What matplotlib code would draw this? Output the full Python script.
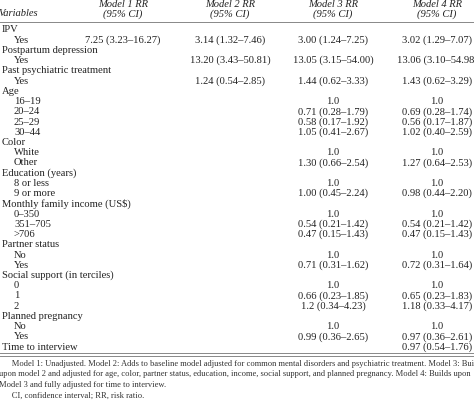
import matplotlib
matplotlib.use("Agg")
import matplotlib.pyplot as plt

headers = ["Model 1 RR\n(95% CI)", "Model 2 RR\n(95% CI)", "Model 3 RR\n(95% CI)", "Model 4 RR\n(95% CI)"]
rows = [
    ("IPV", 0, ["", "", "", ""]),
    ("Yes", 1, ["7.25 (3.23–16.27)", "3.14 (1.32–7.46)", "3.00 (1.24–7.25)", "3.02 (1.29–7.07)"]),
    ("Postpartum depression", 0, ["", "", "", ""]),
    ("Yes", 1, ["", "13.20 (3.43–50.81)", "13.05 (3.15–54.00)", "13.06 (3.10–54.98)"]),
    ("Past psychiatric treatment", 0, ["", "", "", ""]),
    ("Yes", 1, ["", "1.24 (0.54–2.85)", "1.44 (0.62–3.33)", "1.43 (0.62–3.29)"]),
    ("Age", 0, ["", "", "", ""]),
    ("16–19", 1, ["", "", "1.0", "1.0"]),
    ("20–24", 1, ["", "", "0.71 (0.28–1.79)", "0.69 (0.28–1.74)"]),
    ("25–29", 1, ["", "", "0.58 (0.17–1.92)", "0.56 (0.17–1.87)"]),
    ("30–44", 1, ["", "", "1.05 (0.41–2.67)", "1.02 (0.40–2.59)"]),
    ("Color", 0, ["", "", "", ""]),
    ("White", 1, ["", "", "1.0", "1.0"]),
    ("Other", 1, ["", "", "1.30 (0.66–2.54)", "1.27 (0.64–2.53)"]),
    ("Education (years)", 0, ["", "", "", ""]),
    ("8 or less", 1, ["", "", "1.0", "1.0"]),
    ("9 or more", 1, ["", "", "1.00 (0.45–2.24)", "0.98 (0.44–2.20)"]),
    ("Monthly family income (US$)", 0, ["", "", "", ""]),
    ("0–350", 1, ["", "", "1.0", "1.0"]),
    ("351–705", 1, ["", "", "0.54 (0.21–1.42)", "0.54 (0.21–1.42)"]),
    (">706", 1, ["", "", "0.47 (0.15–1.43)", "0.47 (0.15–1.43)"]),
    ("Partner status", 0, ["", "", "", ""]),
    ("No", 1, ["", "", "1.0", "1.0"]),
    ("Yes", 1, ["", "", "0.71 (0.31–1.62)", "0.72 (0.31–1.64)"]),
    ("Social support (in terciles)", 0, ["", "", "", ""]),
    ("0", 1, ["", "", "1.0", "1.0"]),
    ("1", 1, ["", "", "0.66 (0.23–1.85)", "0.65 (0.23–1.83)"]),
    ("2", 1, ["", "", "1.2 (0.34–4.23)", "1.18 (0.33–4.17)"]),
    ("Planned pregnancy", 0, ["", "", "", ""]),
    ("No", 1, ["", "", "1.0", "1.0"]),
    ("Yes", 1, ["", "", "0.99 (0.36–2.65)", "0.97 (0.36–2.61)"]),
    ("Time to interview", 0, ["", "", "", "0.97 (0.54–1.76)"]),
]
footnotes = [
    "      Model 1: Unadjusted. Model 2: Adds to baseline model adjusted for common mental disorders and psychiatric treatment. Model 3: Builds",
    "upon model 2 and adjusted for age, color, partner status, education, income, social support, and planned pregnancy. Model 4: Builds upon",
    "Model 3 and fully adjusted for time to interview.",
    "      CI, confidence interval; RR, risk ratio.",
]

W, H = 474, 404
fig = plt.figure(figsize=(W/100, H/100), dpi=100)
ax = fig.add_axes([0, 0, 1, 1])
ax.set_xlim(0, W); ax.set_ylim(H, 0); ax.axis("off")
font = dict(family="Liberation Serif", fontsize=7.6, color="#222222")
colx = [123, 230, 333, 437]

ax.text(-2, 14, "Variables", style="italic", va="center", ha="left", **font)
for x, h in zip(colx, headers):
    ax.text(x, 9.5, h, style="italic", va="center", ha="center", linespacing=1.05, **font)
ax.plot([0, W], [22, 22], color="#888888", lw=0.7)

y0, dy = 30, 10.23
for i, (label, ind, vals) in enumerate(rows):
    y = y0 + i*dy
    ax.text(2 + ind*12, y, label, va="center", ha="left", **font)
    for x, v in zip(colx, vals):
        if v:
            ax.text(x, y, v, va="center", ha="center", **font)

ax.plot([0, W], [353, 353], color="#888888", lw=0.7)
ax.plot([0, W], [355.5, 355.5], color="#888888", lw=0.7)
fn = dict(family="Liberation Serif", fontsize=6.15, color="#333333")
for j, t in enumerate(footnotes):
    ax.text(-1, 364 + j*10.5, t, va="center", ha="left", **fn)

fig.savefig("out.png", dpi=100)
